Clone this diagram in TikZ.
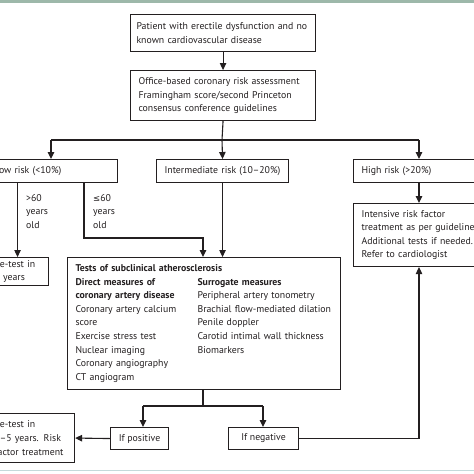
\documentclass[tikz,border=0pt]{standalone}
\usepackage{fontspec}
\setmainfont{PT Sans}
\newfontfamily\symfont{DejaVu Sans}
\usetikzlibrary{arrows.meta}
\definecolor{ink}{HTML}{231F20}
\definecolor{bandtop}{HTML}{9DB8AA}
\definecolor{bandbot}{HTML}{C4DADA}
\begin{document}
\begin{tikzpicture}[x=1pt,y=-1pt,
  font=\fontsize{9.8}{13.6}\selectfont,
  every node/.style={text=ink},
  box/.style={draw=ink, line width=1.1pt, inner xsep=8pt, inner ysep=0pt, anchor=north west, align=left},
  cbox/.style={draw=ink, line width=1.1pt, inner sep=0pt, anchor=north west, align=center},
  lbl/.style={inner sep=0pt, anchor=north west, align=left},
  arr/.style={-{Triangle[length=7pt,width=6.5pt]}, line width=1.1pt, draw=ink},
  ln/.style={line width=1.1pt, draw=ink}]
\useasboundingbox (0,0) rectangle (474,474);
\clip (0,0) rectangle (474,474);
\fill[bandtop] (0,0) rectangle (474,2.5);
\fill[bandbot] (0,469.5) rectangle (474,471);

\node[box, inner xsep=6pt, text width=173pt, minimum height=37pt] (patient) at (130,14) {Patient with erectile dysfunction and no\\known cardiovascular disease};
\node[box, text width=169pt, minimum height=50pt] (office) at (130,70) {Office-based coronary risk assessment\\Framingham score/second Princeton\\consensus conference guidelines};
\node[box, text width=115pt, minimum height=23pt] (low) at (-14,159) {Low risk (<10\%)};
\node[box, text width=116pt, minimum height=23pt] (inter) at (156,159) {Intermediate risk (10–20\%)};
\node[box, text width=131pt, minimum height=23pt] (high) at (353,159) {High risk (>20\%)};
\node[box, text width=131pt, minimum height=63pt] (intensive) at (353,203) {Intensive risk factor\\treatment as per guidelines\\Additional tests if needed.\\Refer to cardiologist};
\node[box, text width=46pt, minimum height=28pt] (retest1) at (-14,257) {Re-test in\\5 years};
\node[box, text width=257pt, minimum height=132pt] (tests) at (67,257) {\textbf{Tests of subclinical atherosclerosis}\\
\parbox[t]{122pt}{\textbf{Direct measures of}\\\textbf{coronary artery disease}\\Coronary artery calcium\\score\\Exercise stress test\\Nuclear imaging\\Coronary angiography\\CT angiogram}\parbox[t]{140pt}{\textbf{Surrogate measures}\\Peripheral artery tonometry\\Brachial flow-mediated dilation\\Penile doppler\\Carotid intimal wall thickness\\Biomarkers}};
\node[cbox, minimum width=58pt, minimum height=22pt] (pos) at (110,427) {If positive};
\node[cbox, minimum width=70pt, minimum height=22pt] (neg) at (228,427) {If negative};
\node[box, text width=72pt, minimum height=49pt] (retest2) at (-14,413) {Re-test in\\3–5 years. Risk\\factor treatment};

\node[lbl] (gt) at (26,194) {>60\\years\\old};
\node[lbl] (le) at (93,194) {{\symfont\fontsize{8.5}{13.6}\selectfont ≤}60\\years\\old};

\coordinate (split) at (222,140);
\coordinate (hl) at (51,140);
\coordinate (hr) at (419,140);
\coordinate (hx) at (419,0);
\coordinate (lb) at (84,238);
\coordinate (tin) at (203,0);
\coordinate (tb) at (203,406);
\coordinate (pl) at (143,406);
\coordinate (nr) at (263,406);

\draw[arr] (patient.south) -- (office.north);
\draw[ln] (office.south) -- (split);
\draw[ln] (hl) -- (hr);
\draw[arr] (hl) -- (hl |- low.north);
\draw[arr] (split) -- (inter.north);
\draw[arr] (hr) -- (hr |- high.north);
\draw[arr] (retest1.north |- low.south) -- (retest1.north);
\draw[arr] (lb |- low.south) -- (lb) -| (tin |- tests.north);
\draw[arr] (inter.south) -- (inter.south |- tests.north);
\draw[arr] (hx |- high.south) -- (hx |- intensive.north);
\draw[ln] (tb |- tests.south) -- (tb);
\draw[ln] (pl) -- (nr);
\draw[arr] (pl) -- (pl |- pos.north);
\draw[arr] (nr) -- (nr |- neg.north);
\draw[arr] (pos.west) -- (retest2.east);
\draw[arr] (neg.east) -| (hx |- intensive.south);
\end{tikzpicture}
\end{document}
